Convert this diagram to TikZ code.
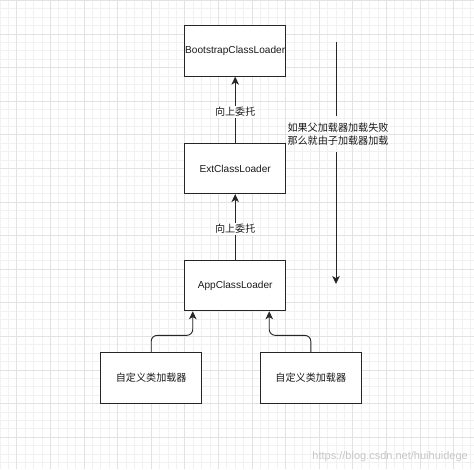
\documentclass[tikz,border=0pt]{standalone}
\usepackage{fontspec}
\setmainfont{Liberation Sans}
\newfontfamily\cjk{Noto Sans CJK SC}
\usetikzlibrary{arrows.meta,calc}
\definecolor{gridminor}{HTML}{F1F1F1}
\definecolor{gridmajor}{HTML}{E2E2E2}
\definecolor{txt}{HTML}{1A1A1A}
\tikzset{
  box/.style={draw=black!85,line width=0.9pt,fill=white,minimum width=100.8pt,minimum height=50.4pt,inner sep=0pt,font=\fontsize{10.1}{12}\selectfont,text=txt},
  cbox/.style={box,font=\cjk\fontsize{10.1}{12}\selectfont},
  arr/.style={draw=black!85,line width=0.9pt,-{Stealth[length=8pt,width=7.5pt,inset=2.2pt]}},
  lbl/.style={fill=white,inner sep=1.5pt,font=\cjk\fontsize{10.1}{12}\selectfont,text=txt}
}
\begin{document}
\begin{tikzpicture}[x=1pt,y=-1pt]
\useasboundingbox (0,0) rectangle (474,469);
\fill[white] (0,0) rectangle (474,469);
% grid
\foreach \i in {0,...,56} \draw[gridminor,line width=0.8pt] (\i*8.4,0) -- (\i*8.4,469);
\foreach \i in {0,...,55} \draw[gridminor,line width=0.8pt] (0,0.4+\i*8.4) -- (474,0.4+\i*8.4);
\foreach \i in {0,...,13} \draw[gridmajor,line width=0.8pt] (16.8+\i*33.6,0) -- (16.8+\i*33.6,469);
\foreach \i in {0,...,13} \draw[gridmajor,line width=0.8pt] (0,0.4+\i*33.6) -- (474,0.4+\i*33.6);
% boxes
\node[box] (boot) at (235.2,51) {\makebox[0pt][c]{BootstrapClassLoader}};
\node[box] (ext) at (235.2,168.4) {ExtClassLoader};
\node[box] (app) at (235.2,285.6) {AppClassLoader};
\node[cbox] (c1) at (151.2,378) {自定义类加载器};
\node[cbox] (c2) at (310.8,378) {自定义类加载器};
% arrows
\draw[arr] (ext.north) -- (boot.south) node[lbl,pos=0.47] (l1) {向上委托};
\draw[arr] (app.north) -- (ext.south) node[lbl,pos=0.47] (l2) {向上委托};
\draw[arr,rounded corners=6pt] (c1.north) -- ++(0,-17) -| ($(app.south west)+(8.4,0)$);
\draw[arr,rounded corners=6pt] (c2.north) -- ++(0,-17) -| ($(app.south east)+(-16.8,0)$);
% vertical note arrow
\coordinate (vtop) at (336,42);
\coordinate (vbot) at (336,284);
\node[font=\cjk\fontsize{10.1}{12.6}\selectfont,text=txt,align=left,inner xsep=0pt,inner ysep=7pt] (note) at (338,134) {如果父加载器加载失败\\那么就由子加载器加载};
\draw[draw=black!85,line width=0.9pt] (vtop) -- (note.north -| vtop);
\draw[arr] (note.south -| vtop) -- (vbot);
% watermark
\node[font=\fontsize{11}{13}\selectfont,text=black!22,anchor=east,inner sep=0pt] (wm) at (468,457) {https://blog.csdn.net/huihuidege};
\end{tikzpicture}
\end{document}
